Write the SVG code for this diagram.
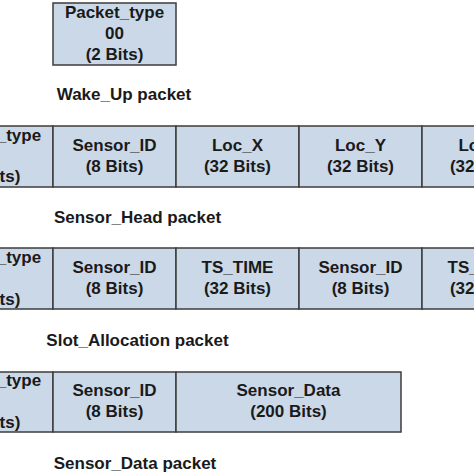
<svg xmlns="http://www.w3.org/2000/svg" width="474" height="474" viewBox="0 0 474 474">
<style>
.c{fill:#cbd8e7;stroke:#3d3d3d;stroke-width:1.5}
text{font-family:"Liberation Sans",Arial,sans-serif;font-weight:bold;font-size:17px;fill:#1a1a1a;text-anchor:middle}
</style>
<rect width="474" height="474" fill="#ffffff"/>
<g id="wake_up">
<rect class="c" x="53" y="3" width="123" height="62"/>
<text x="114.5" y="18">Packet_type</text>
<text x="114.5" y="39">00</text>
<text x="114.5" y="60">(2 Bits)</text>
<text x="124" y="100">Wake_Up packet</text>
</g>
<g id="sensor_head">
<rect class="c" x="-70" y="126" width="123" height="61"/>
<rect class="c" x="53" y="126" width="123" height="61"/>
<rect class="c" x="176" y="126" width="123" height="61"/>
<rect class="c" x="299" y="126" width="123" height="61"/>
<rect class="c" x="422" y="126" width="123" height="61"/>
<text x="-8.5" y="141">Packet_type</text>
<text x="-8.5" y="182">(2 Bits)</text>
<text x="114.5" y="151">Sensor_ID</text>
<text x="114.5" y="172">(8 Bits)</text>
<text x="237.5" y="151">Loc_X</text>
<text x="237.5" y="172">(32 Bits)</text>
<text x="360.5" y="151">Loc_Y</text>
<text x="360.5" y="172">(32 Bits)</text>
<text x="483.5" y="151">Loc_Z</text>
<text x="483.5" y="172">(32 Bits)</text>
<text x="137.5" y="223">Sensor_Head packet</text>
</g>
<g id="slot_allocation">
<rect class="c" x="-70" y="248" width="123" height="61"/>
<rect class="c" x="53" y="248" width="123" height="61"/>
<rect class="c" x="176" y="248" width="123" height="61"/>
<rect class="c" x="299" y="248" width="123" height="61"/>
<rect class="c" x="422" y="248" width="123" height="61"/>
<text x="-8.5" y="263">Packet_type</text>
<text x="-8.5" y="305">(2 Bits)</text>
<text x="114.5" y="273">Sensor_ID</text>
<text x="114.5" y="294">(8 Bits)</text>
<text x="237.5" y="273">TS_TIME</text>
<text x="237.5" y="294">(32 Bits)</text>
<text x="360.5" y="273">Sensor_ID</text>
<text x="360.5" y="294">(8 Bits)</text>
<text x="483.5" y="273">TS_TIME</text>
<text x="483.5" y="294">(32 Bits)</text>
<text x="137.5" y="346">Slot_Allocation packet</text>
</g>
<g id="sensor_data">
<rect class="c" x="-70" y="372" width="123" height="60"/>
<rect class="c" x="53" y="372" width="123" height="60"/>
<rect class="c" x="176" y="372" width="225" height="60"/>
<text x="-8.5" y="386">Packet_type</text>
<text x="-8.5" y="428">(2 Bits)</text>
<text x="114.5" y="396">Sensor_ID</text>
<text x="114.5" y="417">(8 Bits)</text>
<text x="288.5" y="396">Sensor_Data</text>
<text x="288.5" y="417">(200 Bits)</text>
<text x="135" y="469">Sensor_Data packet</text>
</g>
<g id="connectors"/>
</svg>
